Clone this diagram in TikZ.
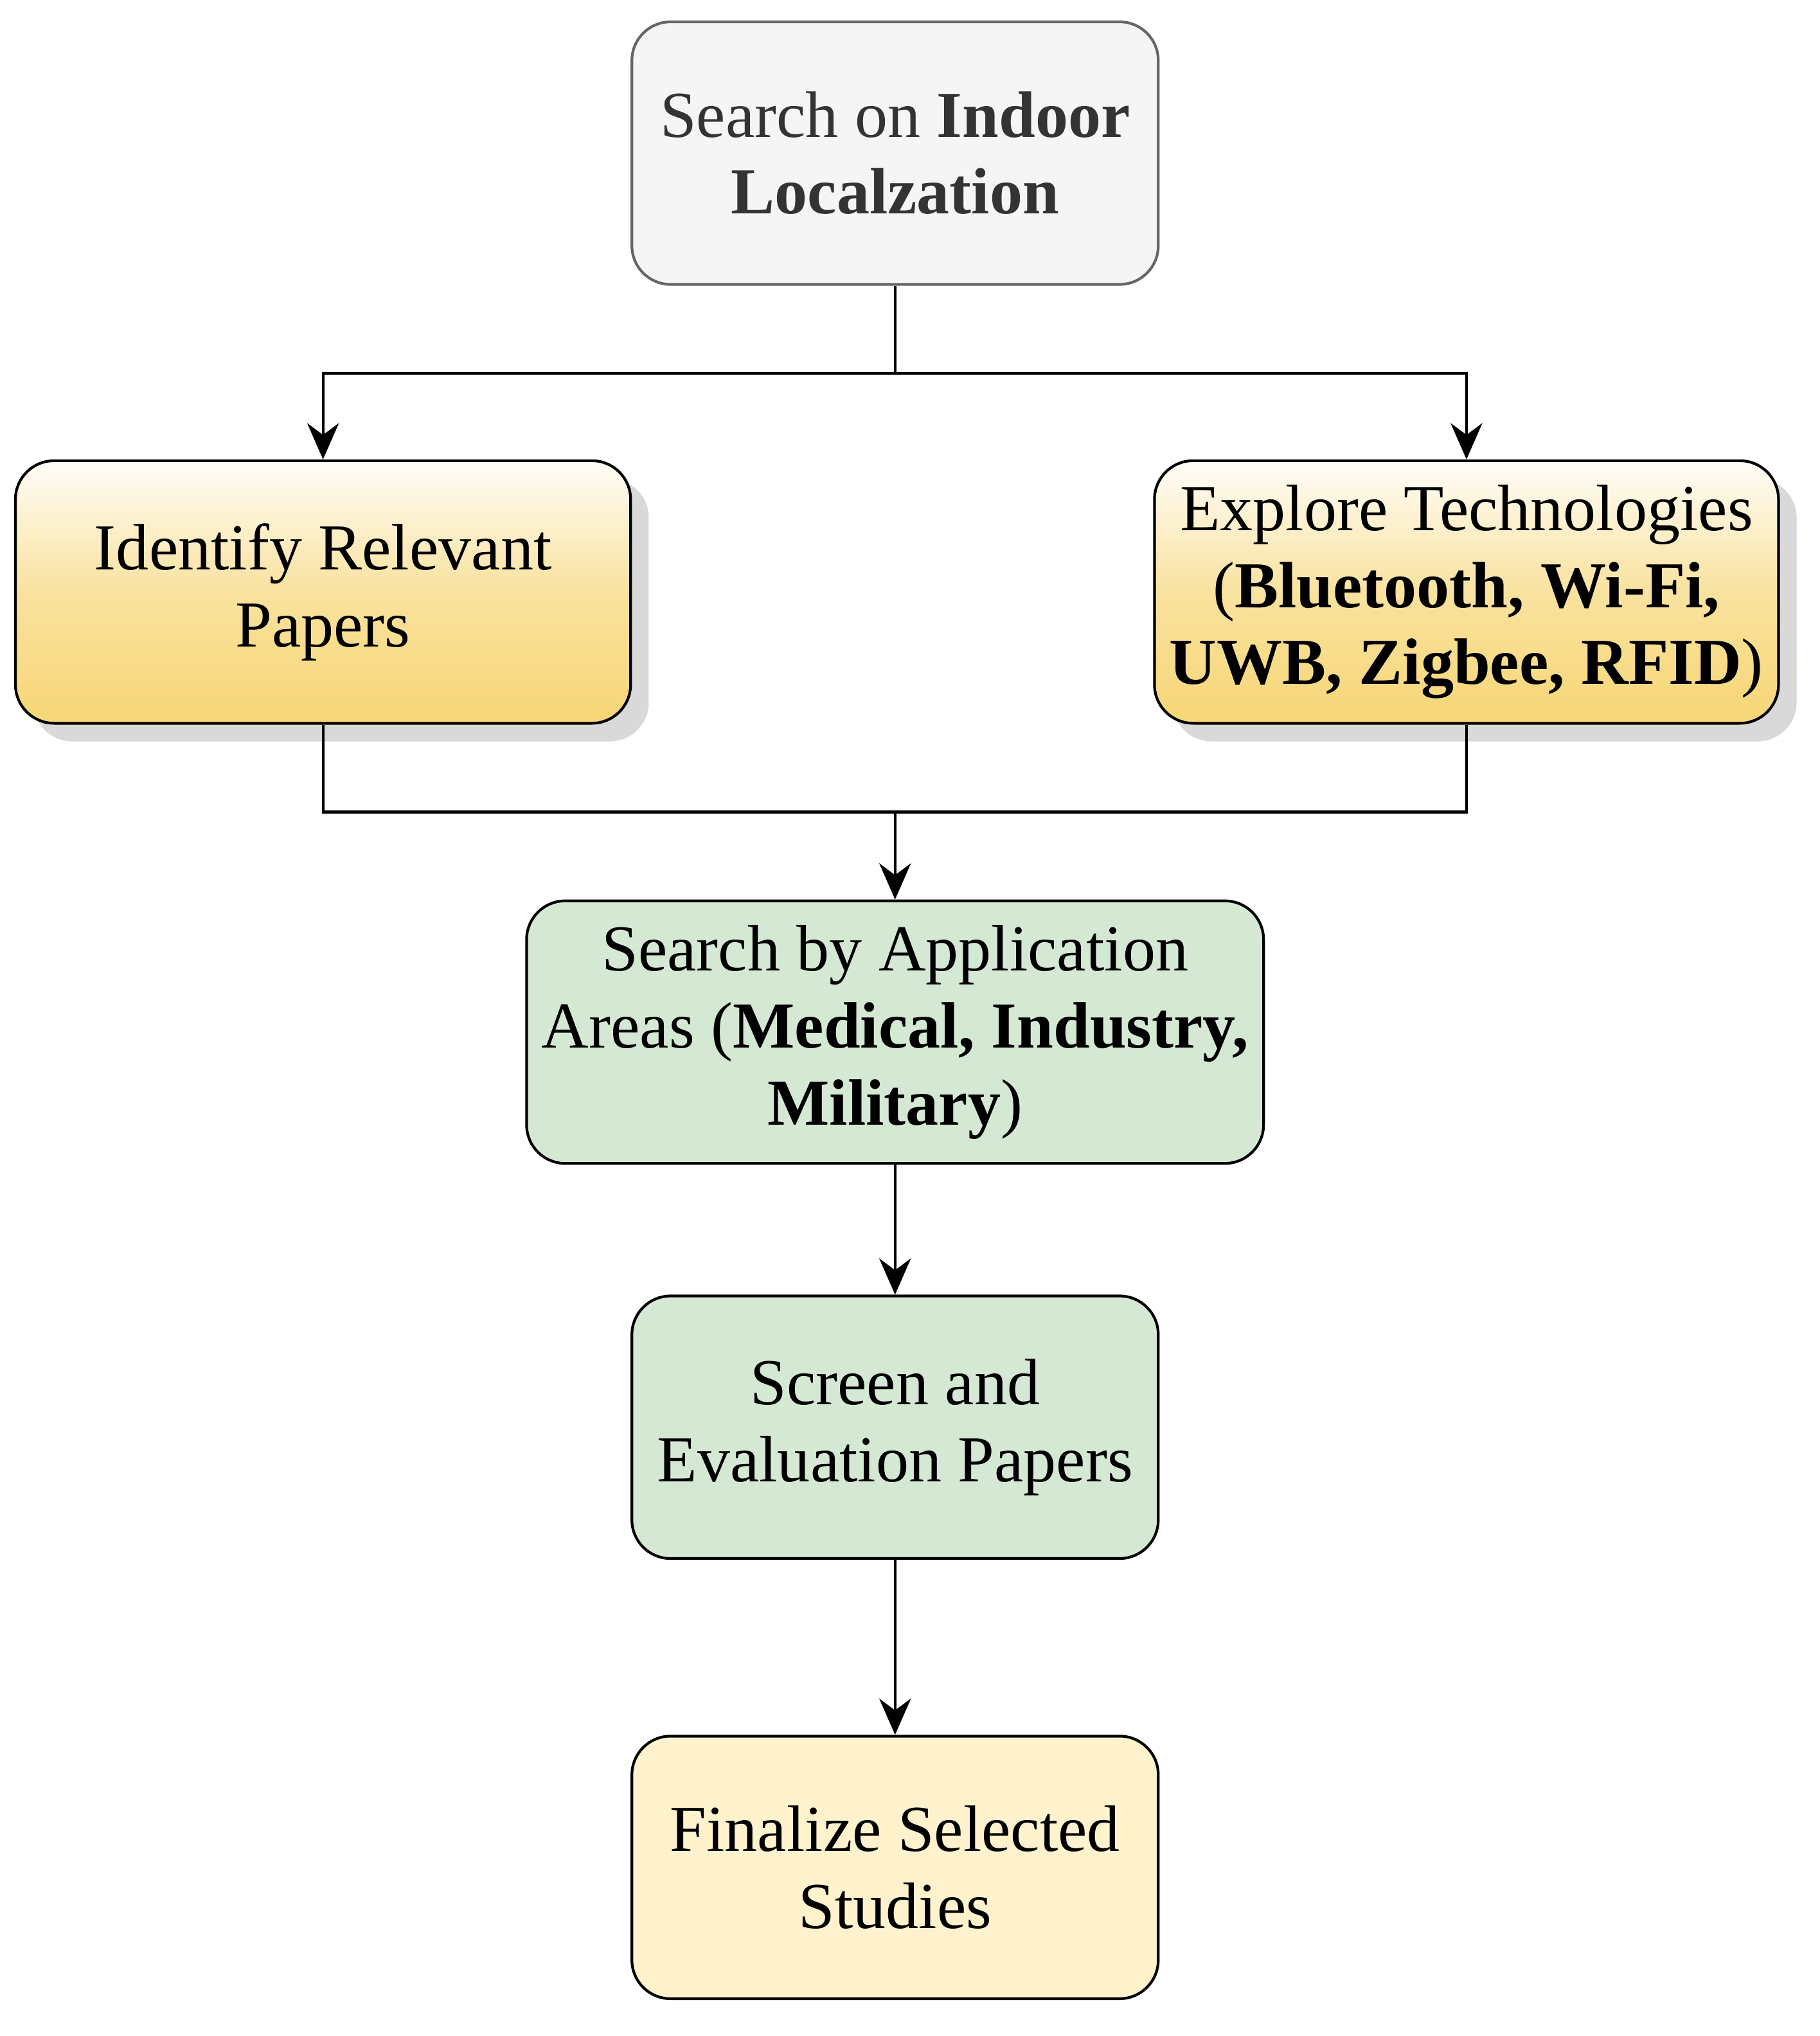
\documentclass[tikz,border=0pt]{standalone}
\usepackage{fontspec}
\setmainfont{Liberation Serif}
\usetikzlibrary{arrows.meta,shadows}
\definecolor{lgrey}{HTML}{F5F5F5}
\definecolor{dgrey}{HTML}{666666}
\definecolor{lgreen}{HTML}{D5E8D4}
\definecolor{lyellow}{HTML}{FFF2CC}
\definecolor{gold}{HTML}{F7D676}

\begin{document}
\begin{tikzpicture}[>={Stealth[length=8pt,width=7pt]},semithick,
  box/.style={draw=black,rounded corners=0.3cm,align=center,minimum height=2.04cm,
    font=\fontsize{14.5}{17}\selectfont},
  gbox/.style={box,fill=lgreen},
  ybox/.style={box,top color=white!95!gold,bottom color=gold,middle color=gold!70,
    drop shadow={opacity=0.3,shadow xshift=4pt,shadow yshift=-4pt}}]
  \useasboundingbox (0,0) rectangle (14.14,15.82);
  \node [box,fill=lgrey,draw=dgrey,text=black!80,minimum width=4.09cm] (search) at (6.955,14.63)
    {Search on \textbf{Indoor}\\\textbf{Localzation}};
  \node [ybox,minimum width=4.78cm] (ident) at (2.51,11.22) {Identify Relevant\\Papers};
  \node [ybox,minimum width=4.77cm] (explore) at (11.395,11.22)
    {Explore Technologies\\(\textbf{Bluetooth, Wi-Fi,}\\\textbf{UWB, Zigbee, RFID})};
  \node [gbox,minimum width=5.45cm] (app) at (6.955,7.8)
    {Search by Application\\Areas (\textbf{Medical, Industry,}\\\textbf{Military})};
  \node [gbox,minimum width=4.09cm] (screen) at (6.955,4.73) {Screen and\\Evaluation Papers};
  \node [box,fill=lyellow,minimum width=4.09cm] (final) at (6.955,1.31) {Finalize Selected\\Studies};

  \coordinate (split) at (6.955,12.92);
  \coordinate (merge) at (6.955,9.51);
  \draw (search) -- (split);
  \draw [->] (split) -| (ident);
  \draw [->] (split) -| (explore);
  \draw (ident) |- (merge);
  \draw (explore) |- (merge);
  \draw [->] (merge) -- (app);
  \draw [->] (app) -- (screen);
  \draw [->] (screen) -- (final);
\end{tikzpicture}
\end{document}
